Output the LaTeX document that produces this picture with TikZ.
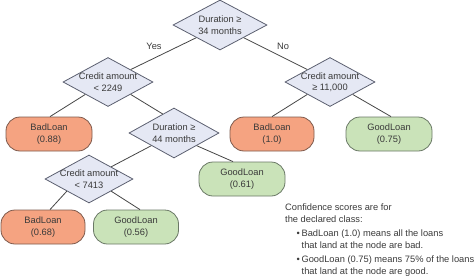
\documentclass[tikz,border=0pt]{standalone}
\usepackage{fontspec}
\setmainfont{Liberation Sans}
\usetikzlibrary{shapes.geometric,calc}
\definecolor{diafill}{HTML}{E5E8F4}
\definecolor{diadraw}{HTML}{5C6070}
\definecolor{badfill}{HTML}{F5A381}
\definecolor{baddraw}{HTML}{7E5A4C}
\definecolor{goodfill}{HTML}{CAE3B9}
\definecolor{gooddraw}{HTML}{6A7866}
\definecolor{txt}{HTML}{3A3A3A}
\definecolor{edge}{HTML}{454545}
\tikzset{
  base/.style={font=\fontsize{9.3}{11.5}\selectfont, text=txt},
  dia/.style={shape=diamond, draw=diadraw, fill=diafill, line width=0.8pt, inner sep=0pt, minimum width=90pt, minimum height=49pt},
  diatext/.style={base, align=center, inner sep=0pt},
  leaf/.style={base, align=center, rounded corners=14pt, line width=0.8pt, minimum width=86pt, minimum height=34pt, inner sep=0pt},
  bad/.style={leaf, draw=baddraw, fill=badfill},
  good/.style={leaf, draw=gooddraw, fill=goodfill},
  conn/.style={draw=edge, line width=0.8pt},
  note/.style={base, anchor=base west, inner sep=0pt},
}
\begin{document}
\begin{tikzpicture}[x=1pt,y=-1pt]
\useasboundingbox (0,0) rectangle (474,276);
% decision nodes
\node[dia, minimum width=94pt, minimum height=50pt] (d1) at (220,25) {};
\node[diatext] (d1t) at (d1) {Duration ≥\\34 months};
\node[dia] (d2) at (108,82) {};
\node[diatext] (d2t) at (d2) {Credit amount\\< 2249};
\node[dia] (d3) at (330,82) {};
\node[diatext] (d3t) at (d3) {Credit amount\\≥ 11,000};
\node[dia, minimum height=50pt] (d4) at (174,133) {};
\node[diatext] (d4t) at (d4) {Duration ≥\\44 months};
\node[dia, minimum width=88pt, minimum height=48pt] (d5) at (89,179) {};
\node[diatext] (d5t) at (d5) {Credit amount\\< 7413};
% leaves
\node[bad] (l1) at (49,134) {BadLoan\\(0.88)};
\node[bad, minimum width=84pt] (l2) at (272,134) {BadLoan\\(1.0)};
\node[good] (l3) at (389,134) {GoodLoan\\(0.75)};
\node[good] (l4) at (242,179) {GoodLoan\\(0.61)};
\node[bad, minimum width=84pt] (l5) at (43,227) {BadLoan\\(0.68)};
\node[good, minimum width=85pt] (l6) at (136,227) {GoodLoan\\(0.56)};
% connectors
\draw[conn] ($(d1.west)!0.5!(d1.south)$) -- ($(d2.north)!0.5!(d2.east)$);
\draw[conn] ($(d1.east)!0.5!(d1.south)$) -- ($(d3.north)!0.5!(d3.west)$);
\draw[conn] ($(d2.west)!0.5!(d2.south)$) -- ([xshift=1pt]l1.north);
\draw[conn] ($(d2.east)!0.5!(d2.south)$) -- ($(d4.west)!0.75!(d4.north)$);
\draw[conn] ($(d3.west)!0.5!(d3.south)$) -- (l2.north);
\draw[conn] ($(d3.east)!0.5!(d3.south)$) -- ([xshift=2pt]l3.north);
\draw[conn] ($(d4.east)!0.5!(d4.south)$) -- ([xshift=-9pt]l4.north);
\draw[conn] ($(d4.west)!0.5!(d4.south)$) -- ($(d5.north)!0.5!(d5.east)$);
\draw[conn] ($(d5.west)!0.5!(d5.south)$) -- ([xshift=7pt]l5.north);
\draw[conn] ($(d5.east)!0.5!(d5.south)$) -- ([xshift=4pt]l6.north);
% branch labels
\node[base] (yes) at (154,46.5) {Yes};
\node[base] (no) at (283,46.5) {No};
% note
\node[note] (t1) at (285,210.5) {Confidence scores are for};
\node[note] (t2) at (285,222) {the declared class:};
\node[note] (t3) at (296.5,236.5) {•\hspace{1.6pt}BadLoan (1.0) means all the loans};
\node[note] (t4) at (301.5,248.5) {that land at the node are bad.};
\node[note] (t5) at (296.5,262) {•\hspace{1.6pt}GoodLoan (0.75) means 75\% of the loans};
\node[note] (t6) at (301.5,274) {that land at the node are good.};
\end{tikzpicture}
\end{document}
